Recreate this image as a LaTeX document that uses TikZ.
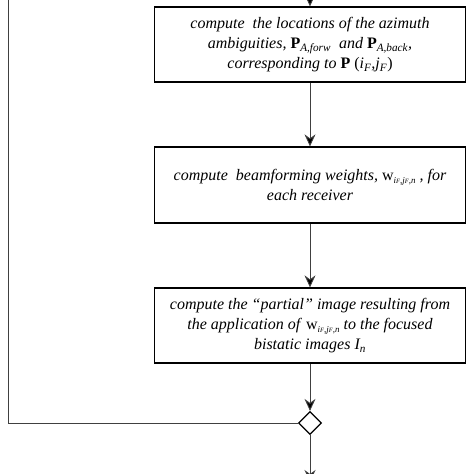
\documentclass[tikz,border=0pt]{standalone}
\usepackage{fontspec}
\setmainfont{Liberation Serif}
\usetikzlibrary{arrows.meta,shapes.geometric}
\newcommand{\mysub}[1]{\textsubscript{#1}}
\newcommand{\wsub}{\textup{w}\raisebox{-0.35ex}{\fontsize{9}{9}\selectfont\itshape i\raisebox{-0.2ex}{\fontsize{6.5}{6.5}\selectfont F},j\raisebox{-0.2ex}{\fontsize{6.5}{6.5}\selectfont F},n}}
\begin{document}
\begin{tikzpicture}[x=1pt,y=-1pt,
  procbox/.style={draw, line width=1.3pt, minimum width=311pt, align=center,
    font=\fontsize{16}{20}\selectfont\itshape, inner sep=0pt},
  conn/.style={draw=black!75, line width=0.9pt},
  arr/.style={conn, -{Stealth[length=12pt,width=11pt,inset=4pt,fill=black]}},
  dec/.style={draw, diamond, line width=1.2pt, minimum width=23pt, minimum height=23pt, inner sep=0pt, aspect=1}]
\useasboundingbox (0,0) rectangle (474,474);
\node[procbox, minimum height=75pt] (b1) at (310,44.5) {compute\ \ the locations of the azimuth\\ambiguities, \textbf{\textup{P}}\mysub{A,forw}\ \ and \textbf{\textup{P}}\mysub{A,back},\\corresponding to \textbf{\textup{P}} \textup{(}i\mysub{F},j\mysub{F}\textup{)}};
\node[procbox, minimum height=76pt] (b2) at (310,185) {compute\ \ beamforming weights, \wsub\ , for\\each receiver};
\node[procbox, minimum height=75pt] (b3) at (310,325.5) {compute the ``partial'' image resulting from\\the application of \wsub\ to the focused\\bistatic images \textit{I}\mysub{n}};
\node[dec] (d) at (310,423) {};
\coordinate (top) at (310,-4);
\coordinate (bot) at (310,482);
\coordinate (lt) at (8,-2);
\coordinate (lb) at (8,423);
\draw[arr] (top) -- (b1.north);
\draw[arr] (b1) -- (b2);
\draw[arr] (b2) -- (b3);
\draw[arr] (b3) -- (d);
\draw[arr] (d) -- (bot);
\draw[conn] (d.west) -- (lb) -- (lt);
\end{tikzpicture}
\end{document}
